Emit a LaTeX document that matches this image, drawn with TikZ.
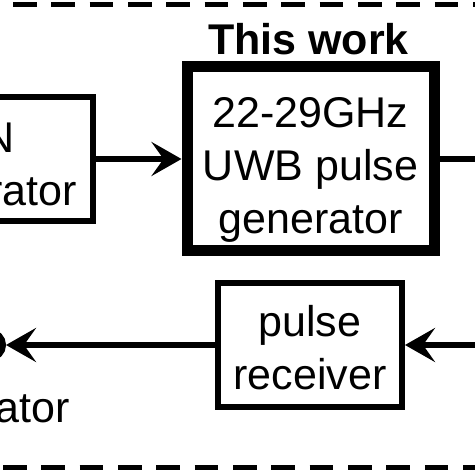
\documentclass[tikz,border=0pt]{standalone}
\usepackage{fontspec}
\setmainfont{Liberation Sans}
\usetikzlibrary{arrows.meta}

\begin{document}
\begin{tikzpicture}[x=0.5pt, y=-0.5pt, every text node part/.style={align=center},
  every node/.style={font=\fontsize{21.5}{26.5}\selectfont}]

\tikzstyle{box}=[draw, line width=3pt, inner sep=0pt]
\tikzstyle{workbox}=[draw, line width=5.5pt, inner sep=0pt]
\tikzstyle{arr}=[draw, line width=3pt, -{Stealth[length=15pt, width=17pt, inset=6pt]}]
\tikzstyle{wire}=[draw, line width=3pt]
\tikzstyle{frame}=[draw, line width=2.5pt, dash pattern=on 11.75pt off 7.42pt]

\useasboundingbox (0, 0) rectangle (474, 474);

\node (pngen) [box, minimum width=108.5pt, minimum height=62pt, text height=50.5pt] at (-15.5, 159) {\phantom{P}N\\\phantom{gene}rator};

\node (uwbgen) [workbox, minimum width=123.5pt, minimum height=92pt, text height=78.5pt] at (310.5, 159) {22-29GHz\\UWB pulse\\generator};
\node (worklabel) [anchor=base, font=\fontsize{21.5}{26.5}\selectfont\bfseries] at (308.5, 55) {This work};

\node (recv) [box, minimum width=92pt, minimum height=62pt, text height=45pt] at (310, 345) {pulse\\receiver};

\node (osc) [circle, draw, line width=3pt, inner sep=0pt, minimum size=13pt] at (-10, 345) {};
\node (osclabel) [anchor=base] at (-15, 422) {\phantom{oscill}ator};

\coordinate (out) at (480, 159);
\coordinate (in) at (480, 345);

\path [arr] (pngen) -- (uwbgen);
\path [wire] (uwbgen) -- (out);
\path [arr] (in) -- (recv);
\path [arr] (recv) -- (osc);

% dashed frame, top and bottom
\path [frame] (13, 4.5) -- (480, 4.5);
\path [frame] (3, 467.5) -- (480, 467.5);

\end{tikzpicture}
\end{document}
